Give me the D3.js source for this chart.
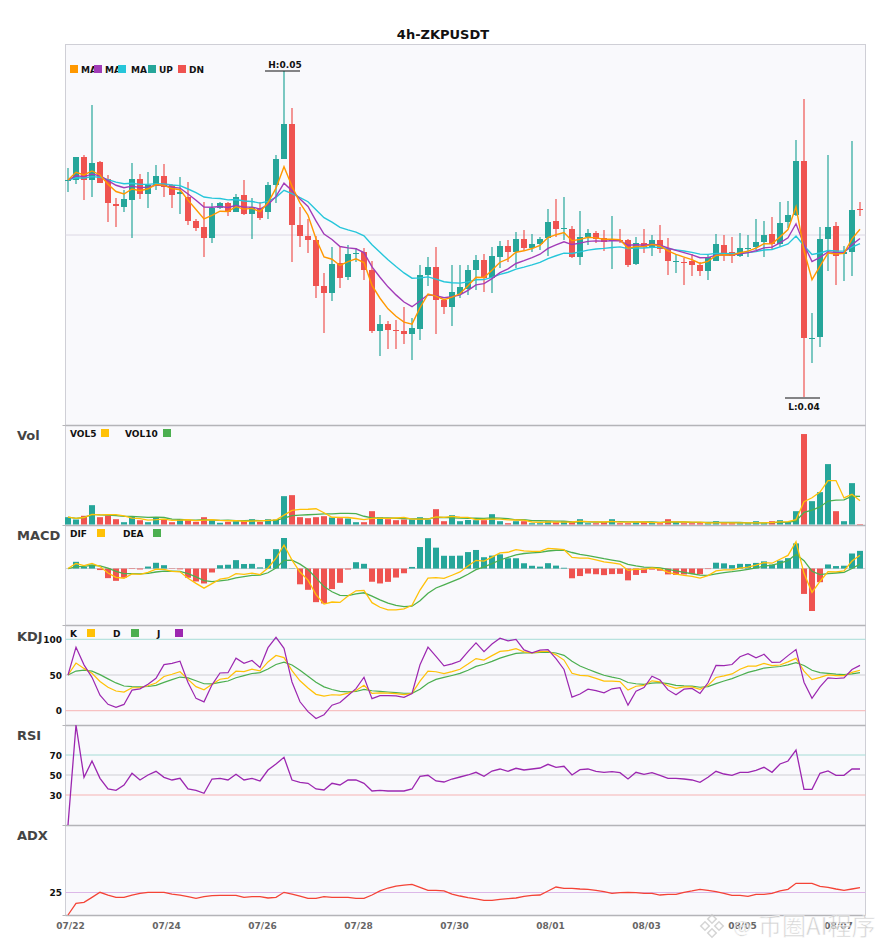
<!DOCTYPE html>
<html>
<head>
<meta charset="utf-8">
<script src="https://cdn.jsdelivr.net/npm/d3@7"></script>
<style>
  body { margin: 0; background: #fff; }
  text { font-family: "DejaVu Sans", sans-serif; }
</style>
</head>
<body>
<svg id="chart" width="885" height="950"></svg>
<script>
// ---- data ----
var open = [0.046525,0.04655,0.0477,0.04655,0.04745,0.0466,0.04535,0.0452,0.04555,0.0466,
  0.04585,0.0463,0.04675,0.0463,0.04585,0.0457,0.0445,0.0442,0.04365,0.04515,
  0.0454,0.04495,0.0458,0.04485,0.04515,0.04495,0.0463,0.0476,0.04935,0.0443,
  0.04375,0.04355,0.04125,0.0409,0.0424,0.0417,0.04285,0.04295,0.04205,0.039,
  0.03935,0.03905,0.039,0.03885,0.0391,0.0418,0.0422,0.04055,0.0402,0.04085,
  0.0411,0.04205,0.04255,0.04165,0.0427,0.04325,0.04295,0.0436,0.04315,0.04335,
  0.04365,0.0445,0.0441,0.0441,0.0427,0.0437,0.0439,0.04365,0.0435,0.04355,
  0.04355,0.04235,0.0434,0.0432,0.04355,0.0431,0.042475,0.04245,0.0425,0.0423,
  0.042,0.0425,0.0433,0.04295,0.04275,0.043125,0.0432,0.04345,0.04385,0.04335,
  0.04445,0.0448,0.0475,0.038625,0.0387,0.0436,0.04425,0.04285,0.04295,0.0451]
var high = [0.04715,0.0477,0.0478,0.0503,0.0475,0.0468,0.04565,0.04605,0.0474,0.04685,
  0.04695,0.0473,0.04735,0.04635,0.0467,0.04645,0.0446,0.04545,0.0454,0.04545,
  0.04545,0.04585,0.04655,0.04565,0.04545,0.04645,0.0478,0.052,0.05015,0.0452,
  0.0446,0.04375,0.0419,0.0432,0.0432,0.0433,0.04315,0.04315,0.0425,0.0398,
  0.0395,0.03955,0.0402,0.03965,0.0423,0.0427,0.0432,0.0406,0.0423,0.0423,
  0.0423,0.0428,0.04285,0.0432,0.0435,0.04355,0.04395,0.04405,0.04385,0.0437,
  0.0451,0.0456,0.0457,0.04425,0.045,0.0441,0.044,0.04405,0.04475,0.0441,
  0.0436,0.0437,0.0441,0.0438,0.0443,0.04365,0.04285,0.04265,0.04285,0.04245,
  0.0428,0.04385,0.0438,0.0437,0.0439,0.0438,0.0446,0.0445,0.0447,0.04545,
  0.0455,0.04855,0.0506,0.0399,0.0442,0.0478,0.04445,0.04325,0.0485,0.04545]
var low = [0.04595,0.04635,0.04555,0.0457,0.0464,0.04445,0.0442,0.04495,0.04365,0.0456,
  0.04515,0.04605,0.0457,0.04515,0.04485,0.0443,0.044,0.0427,0.0434,0.0451,
  0.04475,0.04495,0.0448,0.0436,0.04455,0.0446,0.0454,0.0476,0.04245,0.0432,
  0.0429,0.04065,0.0389,0.0405,0.04115,0.04155,0.04245,0.04155,0.0389,0.03775,
  0.0381,0.0381,0.03835,0.03755,0.03855,0.04125,0.03885,0.03985,0.03925,0.04065,
  0.0408,0.04105,0.04095,0.0409,0.04215,0.04245,0.04215,0.04305,0.04295,0.04305,
  0.04275,0.0437,0.04355,0.04265,0.0423,0.0433,0.0434,0.043,0.0421,0.0434,
  0.0422,0.0423,0.0429,0.04275,0.0429,0.0418,0.0419,0.0413,0.04175,0.04175,
  0.04155,0.0425,0.0425,0.0424,0.0427,0.0427,0.04305,0.0427,0.0431,0.0432,
  0.04415,0.04475,0.0357,0.0374,0.0382,0.042,0.0413,0.0415,0.04175,0.04475]
var close = [0.04655,0.0477,0.04655,0.0474,0.0464,0.0454,0.04525,0.0456,0.0466,0.04585,
  0.0463,0.04675,0.0462,0.0458,0.04595,0.0445,0.04415,0.04365,0.04515,0.0454,
  0.04495,0.0457,0.04485,0.0452,0.04465,0.0463,0.0476,0.04935,0.0443,0.04375,
  0.04355,0.04125,0.0409,0.04235,0.04165,0.04285,0.0429,0.04205,0.039,0.03935,
  0.03905,0.039,0.03885,0.03915,0.0418,0.0422,0.04055,0.0402,0.04095,0.0412,
  0.04205,0.04255,0.04165,0.04275,0.04325,0.04295,0.0436,0.04315,0.04335,0.0436,
  0.04445,0.0441,0.04415,0.0427,0.0437,0.0439,0.0436,0.04345,0.0436,0.0435,
  0.0423,0.0434,0.0432,0.04355,0.0431,0.0425,0.0425,0.042425,0.0423,0.042,
  0.0427,0.04335,0.0429,0.04275,0.04315,0.04315,0.04345,0.0438,0.04335,0.0444,
  0.0448,0.0475,0.03865,0.03865,0.0436,0.0442,0.04275,0.04295,0.04505,0.04505]
// volume, millions of ZKP
var volume = [7.3,5,8.7,19.3,7.3,9,5.3,2.3,8,4.3,
  2.3,7,5,2.3,5,4.3,2.7,7.3,4.3,1.7,
  2.7,3.3,4.3,5.3,2.7,5.3,5,28.3,29.3,7.3,
  6.3,7.3,8.3,7,6.3,6,2.3,2.3,13.3,7.3,
  5.3,4.3,5,5,7.3,5,15.3,3.3,9.3,3.3,
  4.5,4.3,4.3,10.3,3.3,1.3,3.3,3.3,1.3,1.3,
  3.3,2.3,3.3,2.3,5.3,1.3,1.3,2.3,5.3,1.3,
  1.3,2.3,2.3,2.3,1.3,5.3,2.3,1.3,1.3,1.3,
  1.3,3.3,1.3,1.3,1.3,1.3,3.3,1.3,3.3,4.3,
  2.3,13.3,90.3,23.3,32.3,60.3,13.3,3.3,41.3,0.5]
var rsiVals = [0,100,47.7,64,46.7,36,34.7,40,51.7,45,
  50,53.7,47.7,45,46.7,36,34.7,31.7,46,46.7,
  45,50.7,45,46.7,44,55,61,67.7,45,42.7,
  41.7,36,35,41.7,40,45,45,41.7,34,34.7,
  34,34,34,36,48.7,49.7,44,43,46,48,
  50,52.7,48.7,54,56,53.7,56.7,55,56,57,
  60.7,57.7,58.7,50,55.3,56,53.7,52.7,53.3,52.3,
  46,52.7,50.7,52.3,49.7,46.7,46.7,46,45,42.7,
  47.7,53.7,51,49.7,52.7,52.7,54.7,57.7,52.7,61,
  64,75,35.7,35.7,51.7,54,49.7,49.7,56,56]
var adxVals = [0,13,14.1,19.6,25.2,22.2,19.6,19.6,22.2,24.1,
  25.2,25.2,25.2,23.3,22.2,20.4,18.5,20.4,21.5,21.9,
  21.9,21.9,19.6,20.4,20.4,18.9,19.6,25.2,23.3,21.1,
  18.5,18.5,20.4,19.6,19.6,19.6,18.5,18.5,22.2,26.7,
  30,32.2,33.3,34.1,30.7,27.4,27.4,26.7,23.3,21.1,
  19.3,17.8,16.3,16.3,17.4,18.1,18.9,20.7,21.9,22.2,
  26.7,31.1,29.6,29.6,28.9,28.5,27.4,25.9,24.1,24.8,
  25.2,24.8,24.1,24.1,22.2,23,23,25.2,26.7,28.5,
  27.4,25.9,24.1,21.9,21.9,20.7,23,23,24.1,26.7,
  28.5,35.2,35.2,35.2,31.9,30.7,28.9,27.4,28.9,30.4]
var tickLabels = ["07/22","07/24","07/26","07/28","07/30","08/01","08/03","08/05","08/07"]
var candlesPerTick = 12
var maPeriods = [5, 10, 20]
var volPeriods = [5, 10]
var macdParams = [6, 13, 5]
var kdjPeriod = 9

var upColor = "#26a69a", dnColor = "#ef5350"
var maColors = ["#ff9800", "#a23cb8", "#26c6da"]
var yellow = "#ffc107", green = "#4caf50", purple = "#9c27b0"

// ---- indicators ----
function ema(arr, n) {
  var a = 2 / (n + 1), out = [arr[0]]
  for (var i = 1; i < arr.length; i++) out.push(a * arr[i] + (1 - a) * out[i - 1])
  return out
}
function sma(arr, n) {
  return arr.map(function(d, i) {
    return d3.mean(arr.slice(Math.max(0, i - n + 1), i + 1))
  })
}
var maLines = maPeriods.map(function(p) { return ema(close, p) })
var volLines = volPeriods.map(function(p) { return sma(volume, p) })
var eFast = ema(close, macdParams[0]), eSlow = ema(close, macdParams[1])
var dif = close.map(function(d, i) { return eFast[i] - eSlow[i] })
var dea = ema(dif, macdParams[2])
var hist = dif.map(function(d, i) { return 2 * (d - dea[i]) })
var kVals = [], dVals = [], jVals = []
var pk = 50, pd = 50
close.forEach(function(c, i) {
  var lo = d3.min(low.slice(Math.max(0, i - kdjPeriod + 1), i + 1))
  var hi = d3.max(high.slice(Math.max(0, i - kdjPeriod + 1), i + 1))
  var rsv = hi === lo ? 50 : (c - lo) / (hi - lo) * 100
  pk = (2 * pk + rsv) / 3
  pd = (2 * pd + pk) / 3
  kVals.push(pk); dVals.push(pd); jVals.push(3 * pk - 2 * pd)
})

// ---- layout ----
var svg = d3.select("#chart")
var L = 65.5, R = 865.5
var mainTop = 45, mainBottom = 425
var n = close.length
var x = d3.scaleLinear().domain([0, n - 1]).range([68, 860])
var bw = 6

svg.append("rect").attr("x", L).attr("y", 44.5).attr("width", R - L).attr("height", 871)
  .attr("fill", "#f9f9fc").attr("stroke", "#cfcfd6")

svg.append("text").attr("x", 443).attr("y", 39).attr("text-anchor", "middle")
  .style("font-size", "13px").style("font-weight", "bold").attr("fill", "#111").text("4h-ZKPUSDT")

// panel separators
;[425, 525, 625, 725, 825, 915].forEach(function(yy) {
  svg.append("line").attr("x1", L).attr("x2", R).attr("y1", yy + 0.5).attr("y2", yy + 0.5)
    .attr("stroke", "#b4b4b8").attr("stroke-width", 1.5)
  svg.append("line").attr("x1", L - 3).attr("x2", L).attr("y1", yy + 0.5).attr("y2", yy + 0.5)
    .attr("stroke", "#b4b4b8")
})

var panelNames = [["Vol", 440], ["MACD", 540], ["KDJ", 641], ["RSI", 740], ["ADX", 840]]
panelNames.forEach(function(p) {
  svg.append("text").attr("x", 17).attr("y", p[1]).style("font-size", "13px")
    .style("font-weight", "bold").attr("fill", "#444").text(p[0])
})

function legend(items, yy) {
  items.forEach(function(it) {
    svg.append("text").attr("x", it.tx).attr("y", yy + 7.5).style("font-size", "9px")
      .style("font-weight", "bold").attr("fill", "#111").text(it.text)
    svg.append("rect").attr("x", it.sx).attr("y", yy).attr("width", 8).attr("height", 8).attr("fill", it.color)
  })
}
function guide(y, v, color) {
  svg.append("line").attr("x1", L).attr("x2", R).attr("y1", y(v)).attr("y2", y(v))
    .attr("stroke", color).attr("stroke-width", 1)
}
function yLabel(y, v) {
  svg.append("text").attr("x", 62).attr("y", y(v) + 3.5).attr("text-anchor", "end")
    .style("font-size", "9px").style("font-weight", "bold").attr("fill", "#111").text(v)
}
function drawLine(vals, y, color, w) {
  svg.append("path").datum(vals)
    .attr("d", d3.line().x(function(d, i) { return x(i) }).y(function(d) { return y(d) }))
    .attr("fill", "none").attr("stroke", color).attr("stroke-width", w || 1.3)
}

// ---- main candles ----
var yMain = d3.scaleLinear().domain([d3.min(low), d3.max(high)]).range([397, 71])
svg.append("line").attr("x1", L).attr("x2", R)
  .attr("y1", (mainTop + mainBottom) / 2).attr("y2", (mainTop + mainBottom) / 2)
  .attr("stroke", "#dcd8e4")

var cg = svg.append("g")
cg.selectAll("line.wick").data(close).enter().append("line")
  .attr("x1", function(d, i) { return x(i) }).attr("x2", function(d, i) { return x(i) })
  .attr("y1", function(d, i) { return yMain(high[i]) }).attr("y2", function(d, i) { return yMain(low[i]) })
  .attr("stroke", function(d, i) { return d >= open[i] ? upColor : dnColor }).attr("stroke-width", 1.2)
cg.selectAll("rect.body").data(close).enter().append("rect")
  .attr("x", function(d, i) { return x(i) - bw / 2 }).attr("width", bw)
  .attr("y", function(d, i) { return yMain(Math.max(d, open[i])) })
  .attr("height", function(d, i) { return Math.max(1, Math.abs(yMain(d) - yMain(open[i]))) })
  .attr("fill", function(d, i) { return d >= open[i] ? upColor : dnColor })

drawLine(maLines[2], yMain, maColors[2], 1.4)
drawLine(maLines[1], yMain, maColors[1], 1.4)
drawLine(maLines[0], yMain, maColors[0], 1.4)

// high / low markers
var hiIdx = d3.maxIndex(high), loIdx = d3.minIndex(low)
svg.append("line").attr("x1", x(hiIdx) - 19).attr("x2", x(hiIdx) + 16)
  .attr("y1", yMain(high[hiIdx])).attr("y2", yMain(high[hiIdx])).attr("stroke", "#111").attr("stroke-width", 1.2)
svg.append("text").attr("x", x(hiIdx) + 1).attr("y", yMain(high[hiIdx]) - 3).attr("text-anchor", "middle")
  .style("font-size", "9px").style("font-weight", "bold").attr("fill", "#111").text("H:" + high[hiIdx].toFixed(2))
svg.append("line").attr("x1", x(loIdx) - 19).attr("x2", x(loIdx) + 16)
  .attr("y1", yMain(low[loIdx]) + 1).attr("y2", yMain(low[loIdx]) + 1).attr("stroke", "#111").attr("stroke-width", 1.2)
svg.append("text").attr("x", x(loIdx)).attr("y", yMain(low[loIdx]) + 13).attr("text-anchor", "middle")
  .style("font-size", "9px").style("font-weight", "bold").attr("fill", "#111").text("L:" + low[loIdx].toFixed(2))

legend([
  { sx: 70, tx: 81, text: "MA", color: maColors[0] },
  { sx: 94, tx: 105, text: "MA", color: maColors[1] },
  { sx: 118, tx: 131, text: "MA", color: maColors[2] },
  { sx: 148, tx: 159, text: "UP", color: upColor },
  { sx: 178, tx: 189, text: "DN", color: dnColor }
], 65)

// ---- volume ----
var yVol = d3.scaleLinear().domain([0, d3.max(volume) * 1.1]).range([524.5, 425])
svg.append("g").selectAll("rect").data(volume).enter().append("rect")
  .attr("x", function(d, i) { return x(i) - bw / 2 }).attr("width", bw)
  .attr("y", function(d) { return yVol(d) }).attr("height", function(d) { return yVol(0) - yVol(d) })
  .attr("fill", function(d, i) { return close[i] >= open[i] ? upColor : dnColor })
drawLine(volLines[1], yVol, green, 1.3)
drawLine(volLines[0], yVol, yellow, 1.3)
legend([
  { sx: 101, tx: 70, text: "VOL5", color: yellow },
  { sx: 163, tx: 125, text: "VOL10", color: green }
], 429)

// ---- MACD ----
var yMacd = d3.scaleLinear().domain(d3.extent(dif.concat(dea, hist))).range([611, 538])
guide(yMacd, 0, "#cfcfd4")
svg.append("g").selectAll("rect").data(hist).enter().append("rect")
  .attr("x", function(d, i) { return x(i) - bw / 2 }).attr("width", bw)
  .attr("y", function(d) { return Math.min(yMacd(d), yMacd(0)) })
  .attr("height", function(d) { return Math.abs(yMacd(d) - yMacd(0)) })
  .attr("fill", function(d) { return d >= 0 ? upColor : dnColor })
drawLine(dea, yMacd, green, 1.3)
drawLine(dif, yMacd, yellow, 1.3)
legend([
  { sx: 97, tx: 70, text: "DIF", color: yellow },
  { sx: 153, tx: 123, text: "DEA", color: green }
], 529)

// ---- KDJ ----
var yKdj = d3.scaleLinear().domain([-20, 120]).range([725, 625])
guide(yKdj, 100, "#a6dcd6"); guide(yKdj, 50, "#cfcfd4"); guide(yKdj, 0, "#f6b3b3")
;[100, 50, 0].forEach(function(v) { yLabel(yKdj, v) })
drawLine(dVals, yKdj, green, 1.2)
drawLine(kVals, yKdj, yellow, 1.2)
drawLine(jVals, yKdj, purple, 1.2)
legend([
  { sx: 87, tx: 70, text: "K", color: yellow },
  { sx: 131, tx: 113, text: "D", color: green },
  { sx: 175, tx: 157, text: "J", color: purple }
], 629)

// ---- RSI ----
var yRsi = d3.scaleLinear().domain([0, 100]).range([825, 725])
guide(yRsi, 70, "#a6dcd6"); guide(yRsi, 50, "#cfcfd4"); guide(yRsi, 30, "#f6b3b3")
;[70, 50, 30].forEach(function(v) { yLabel(yRsi, v) })
drawLine(rsiVals, yRsi, purple, 1.3)

// ---- ADX ----
var yAdx = d3.scaleLinear().domain([0, 100]).range([915, 825])
guide(yAdx, 25, "#dcb8e8")
yLabel(yAdx, 25)
drawLine(adxVals, yAdx, "#f44336", 1.3)

// ---- x axis ----
var xAxis = d3.axisBottom(x)
  .tickValues(tickLabels.map(function(d, i) { return i * candlesPerTick }))
  .tickFormat(function(d, i) { return tickLabels[i] })
  .tickSize(0).tickPadding(7)
var ax = svg.append("g").attr("transform", "translate(2,916)").call(xAxis)
ax.select(".domain").remove()
ax.selectAll("text").style("font-size", "9px").style("font-weight", "bold").attr("fill", "#666")
  .style("font-family", "DejaVu Sans, sans-serif")

// ---- watermark ----
var wm = svg.append("g").attr("opacity", 0.75)
var logo = wm.append("g").attr("transform", "translate(712,926)")
;[[0, -7], [-7, 0], [7, 0], [0, 7]].forEach(function(p) {
  logo.append("rect").attr("x", p[0] - 3).attr("y", p[1] - 3).attr("width", 6).attr("height", 6)
    .attr("transform", "rotate(45," + p[0] + "," + p[1] + ")")
    .attr("fill", "none").attr("stroke", "#c8c8c8").attr("stroke-width", 1.5)
})
wm.append("text").attr("x", 733).attr("y", 933).style("font-size", "18px")
  .attr("fill", "#c4c4c4").attr("stroke", "#fff").attr("stroke-width", 0.6).text("@")
wm.append("text").attr("x", 758).attr("y", 935).style("font-size", "24px")
  .style("font-family", "Noto Sans CJK SC").attr("fill", "#c4c4c4")
  .attr("stroke", "#fff").attr("stroke-width", 0.6).text("币圈AI程序")
</script>
</body>
</html>
